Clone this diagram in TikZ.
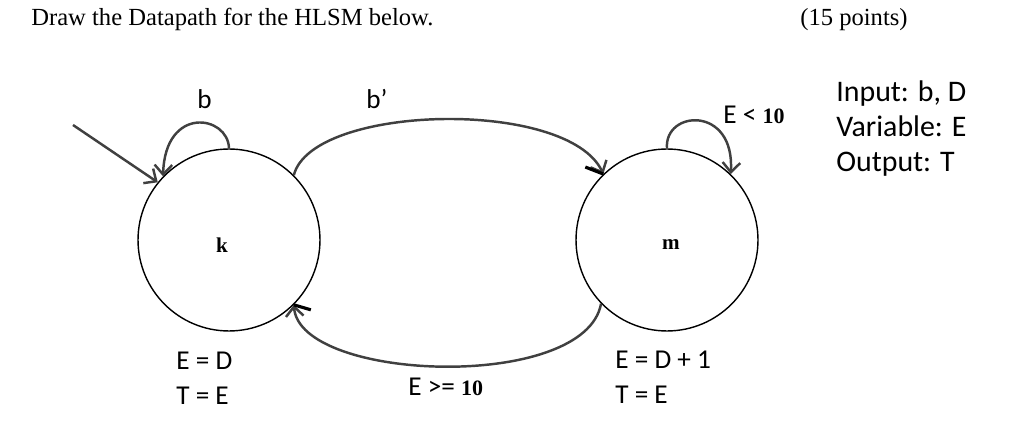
\documentclass[tikz,border=0pt]{standalone}
\usepackage{fontspec}
\setmainfont{Liberation Serif}
\newfontfamily\calfont{Carlito}
\usetikzlibrary{arrows.meta}

\tikzset{
  state/.style={circle, draw, line width=0.8pt, minimum size=3.64cm, inner sep=0pt,
    font=\bfseries\fontsize{12}{14}\selectfont},
  trans/.style={line width=1.4pt, draw=black!75,
    -{Straight Barb[length=5.5pt,width=10pt]}},
  hand/.style={font=\calfont\fontsize{15.5}{20}\selectfont, align=left, inner sep=0pt, anchor=base west},
  head/.style={font=\fontsize{14}{17}\selectfont, inner sep=0pt, anchor=base west},
  tick/.style={line width=1.8pt},
}
\newcommand{\bten}{{\rmfamily\bfseries\fontsize{12.5}{14}\selectfont 10}}

\begin{document}
\begin{tikzpicture}[x=0.02cm, y=-0.02cm]
  \useasboundingbox (0,0) rectangle (1024,445);
  % question
  \node[head] (title) at (31,26) {Draw the Datapath for the HLSM below.};
  \node[head] (pts) at (800,26) {(15 points)};
  % states
  \node[state] (k) at (229,240) {};
  \node[state] (m) at (667,240) {};
  \node[font=\bfseries\fontsize{12}{14}\selectfont] (kname) at (222,245) {k};
  \node[font=\bfseries\fontsize{12}{14}\selectfont] (mname) at (671,245) {m};
  \coordinate (init) at (73,125);
  % transitions
  \draw[trans] (init) -- (k.141);
  \draw[trans] (k.90) .. controls (228,115) and (165,105) .. (k.136);
  \draw[trans] (k.45) .. controls (312,104) and (568,98) .. (m.134);
  \draw[trans] (m.90) .. controls (664,110) and (735,105) .. (m.46);
  \draw[trans] (m.224) .. controls (585,392) and (300,382) .. (k.-45);
  \draw[tick] (m.134) -- ++(-18,-7);
  \draw[tick] (k.-45) -- ++(17,5);
  % conditions
  \node[hand] (cb) at (197,109) {b};
  \node[hand] (cnb) at (366,109) {b’};
  \node[hand] (clt) at (723,124) {E < \bten};
  \node[hand] (cge) at (408,396) {E >= \bten};
  % actions (base = last line)
  \node[hand] (actk) at (176,405) {E = D\\T = E};
  \node[hand] (actm) at (615,404) {E = D + 1\\T = E};
  % declarations
  \node[hand, font=\calfont\fontsize{17}{20}\selectfont] (decl) at (836,172) {Input: b, D\\Variable: E\\Output: T};
\end{tikzpicture}
\end{document}
